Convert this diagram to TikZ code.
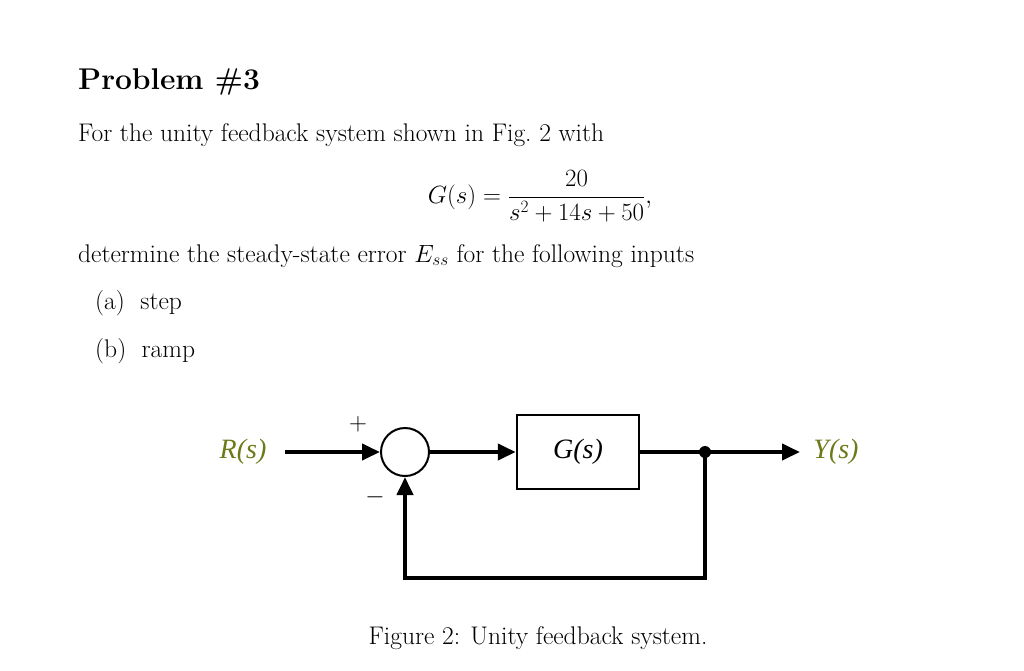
\documentclass[tikz,border=0pt]{standalone}
\usepackage{fontspec}
\newfontfamily\tms{Liberation Serif}
\usetikzlibrary{arrows.meta}
\definecolor{olv}{RGB}{110,122,24}
\begin{document}
\begin{tikzpicture}[x=1pt,y=-1pt,
  txt/.style={anchor=base west,inner sep=0pt,font=\fontsize{25.5}{30}\selectfont},
  ln/.style={line width=4pt,-{Triangle[length=18pt,width=16pt]}},
  fb/.style={line width=4pt},
  sig/.style={font=\tms\itshape\fontsize{28}{30}\selectfont,text=olv,inner sep=0pt}]
\useasboundingbox (0,0) rectangle (1024,670);
\node[txt,font=\bfseries\fontsize{30}{34}\selectfont] (title) at (78,89) {Problem \#3};
\node[txt] (l1) at (78,141) {For the unity feedback system shown in Fig.~2 with};
\node[inner sep=0pt,font=\fontsize{25.5}{30}\selectfont] (eq) at (540,196) {$\displaystyle G(s)=\frac{20}{s^2+14s+50},$};
\node[txt] (l2) at (78,262) {determine the steady-state error $E_{ss}$ for the following inputs};
\node[txt] (a) at (95,309) {(a)\ \ step};
\node[txt] (b) at (95,357) {(b)\ \ ramp};
\node[sig] (R) at (243,452) {R(s)};
\node[sig] (Y) at (836,452) {Y(s)};
\node[draw,circle,line width=2pt,minimum size=48pt,inner sep=0pt] (sum) at (405,452) {};
\node[draw,line width=2.5pt,minimum width=122pt,minimum height=74pt,font=\tms\itshape\fontsize{28}{30}\selectfont] (G) at (578,452) {G(s)};
\coordinate (st) at (285,452);
\coordinate (j) at (705,452);
\coordinate (c1) at (705,578);
\coordinate (c2) at (405,578);
\draw[ln] (st) -- (sum.west);
\draw[ln] (sum.east) -- (G.west);
\draw[fb] (G.east) -- (j);
\draw[ln] (j) -- (800,452) coordinate (yend);
\fill (j) circle (6pt);
\draw[ln] (j) -- (c1) -- (c2) -- (sum.south);
\node[font=\fontsize{28}{30}\selectfont] (plus) at (358,424) {$+$};
\node[font=\fontsize{28}{30}\selectfont] (minus) at (375,497) {$-$};
\node[txt,anchor=base] (cap) at (538,644) {Figure 2: Unity feedback system.};
\end{tikzpicture}
\end{document}
